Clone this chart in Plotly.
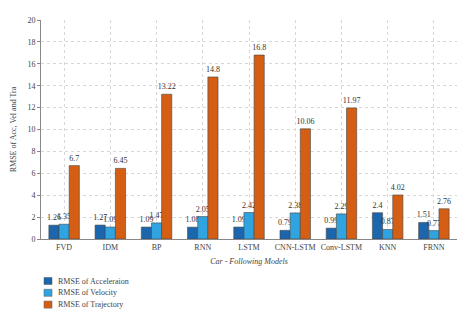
import plotly.graph_objects as go

models = ["FVD", "IDM", "BP", "RNN", "LSTM", "CNN-LSTM", "Conv-LSTM", "KNN", "FRNN"]
rmse_acc = [1.26, 1.27, 1.09, 1.08, 1.09, 0.79, 0.99, 2.4, 1.51]
rmse_vel = [1.35, 1.09, 1.47, 2.05, 2.42, 2.38, 2.29, 0.87, 0.77]
rmse_tra = [6.7, 6.45, 13.22, 14.8, 16.8, 10.06, 11.97, 4.02, 2.76]
y_ticks = [0, 2, 4, 6, 8, 10, 12, 14, 16, 18, 20]

series = [
    ("RMSE of Acceleraion", rmse_acc, "#1b66ad"),
    ("RMSE of Velocity", rmse_vel, "#2fa4e0"),
    ("RMSE of Trajectory", rmse_tra, "#d45f14"),
]

font_family = "Liberation Serif, Times New Roman, serif"
fig = go.Figure()
for name, vals, color in series:
    fig.add_trace(go.Bar(
        x=models, y=vals, name=name,
        marker=dict(color=color, line=dict(color="#444444", width=0.6)),
        text=[str(v) for v in vals], textposition="outside",
        textfont=dict(family=font_family, size=8, color="#333333"),
        constraintext="none", cliponaxis=False, showlegend=False,
    ))

# manual legend (paper coordinates; plot area spans x 41..457, y 20..239 px)
W, H = 416.0, 219.0
for i, (name, vals, color) in enumerate(series):
    yc = 281 + i * 11.8
    fig.add_shape(type="rect", xref="paper", yref="paper",
                  x0=(44 - 41) / W, x1=(52 - 41) / W,
                  y0=(239 - (yc + 3.5)) / H, y1=(239 - (yc - 3.5)) / H,
                  fillcolor=color, line=dict(color="#555555", width=0.5))
    fig.add_annotation(xref="paper", yref="paper", x=(56 - 41) / W, y=(239 - yc) / H,
                       text=name, showarrow=False, xanchor="left", yanchor="middle",
                       font=dict(family=font_family, size=8, color="#444444"))

fig.update_layout(
    width=474, height=326,
    margin=dict(l=41, r=17, t=20, b=87),
    paper_bgcolor="white", plot_bgcolor="white",
    barmode="group", bargap=0.34, bargroupgap=0.0,
    font=dict(family=font_family, size=8, color="#444444"),
    showlegend=False,
)
fig.update_xaxes(
    showline=True, linecolor="#888888", linewidth=1,
    showgrid=True, gridcolor="#d8d8d8", griddash="dot", gridwidth=1,
    ticks="", tickangle=0, tickfont=dict(size=8, color="#444444"),
    title=dict(text="<i>Car - Following Models</i>", font=dict(size=8, color="#444444"), standoff=7),
)
fig.update_yaxes(
    range=[0, 20], tickvals=y_ticks,
    showline=True, linecolor="#888888", linewidth=1,
    showgrid=True, gridcolor="#d8d8d8", griddash="dot", gridwidth=1,
    ticks="outside", ticklen=3, tickcolor="#888888",
    tickfont=dict(size=8, color="#444444"), zeroline=False,
    title=dict(text="RMSE of Acc, Vel and Tra", font=dict(size=8, color="#444444"), standoff=9),
)

fig.write_html("out.html")
